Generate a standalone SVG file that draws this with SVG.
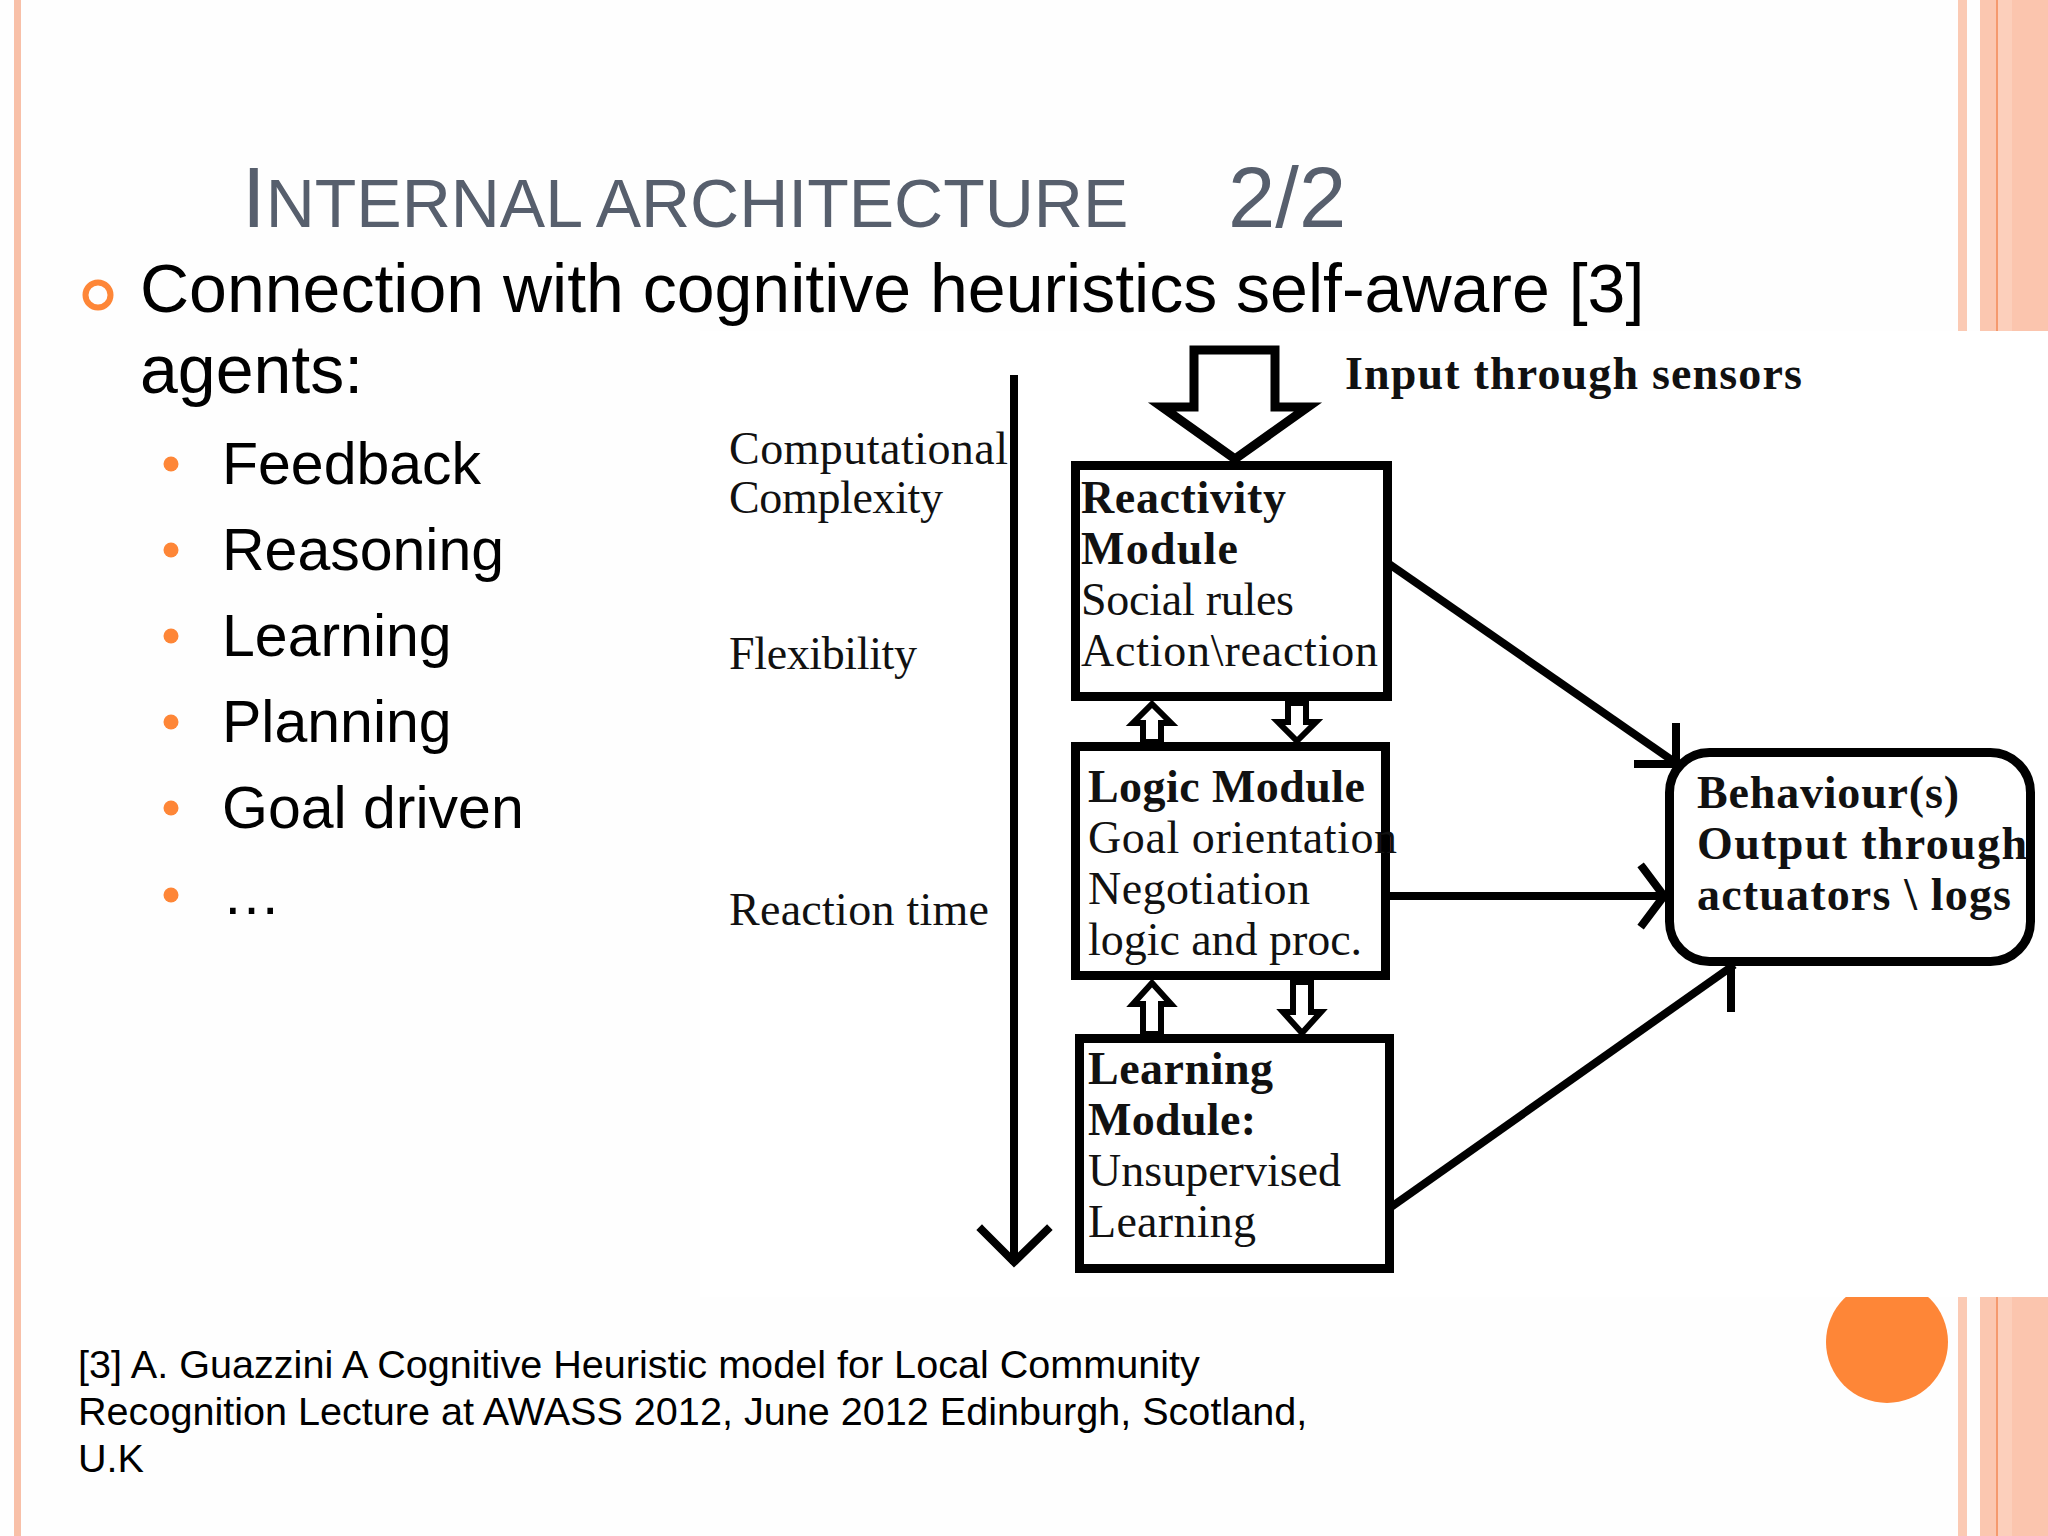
<svg xmlns="http://www.w3.org/2000/svg" width="2048" height="1536" viewBox="0 0 2048 1536">
<style>
.sans{font-family:"Liberation Sans",Arial,sans-serif}
.serif{font-family:"Liberation Serif","Times New Roman",serif;font-size:46px;fill:#111}
.b{font-weight:bold}
.box{fill:#fff;stroke:#000;stroke-width:9}
.con{fill:none;stroke:#000;stroke-width:8;stroke-linecap:square}
.hol{fill:#fff;stroke:#000;stroke-width:6;stroke-linejoin:miter}
.dot{fill:#FE8637}
</style>
<rect x="0" y="0" width="2048" height="1536" fill="#fefefe"/>
<g id="decor">
<rect x="14" y="0" width="7" height="1536" fill="#F8C0A8"/>
<rect x="1958" y="0" width="9" height="1536" fill="#FBCAB4"/>
<rect x="1980" y="0" width="16" height="1536" fill="#FBC7B0"/>
<rect x="1996" y="0" width="2" height="1536" fill="#F59A6E"/>
<rect x="1998" y="0" width="14" height="1536" fill="#FCCFBB"/>
<rect x="2012" y="0" width="36" height="1536" fill="#FBC5AE"/>
<circle cx="1887" cy="1342" r="61" fill="#FE8637"/>
</g>
<g id="title">
<text class="sans" x="242" y="227" fill="#575F6D"><tspan font-size="85">I</tspan><tspan font-size="68">NTERNAL ARCHITECTURE</tspan></text>
<text class="sans" x="1228" y="227" fill="#575F6D" font-size="85">2/2</text>
</g>
<g id="bullets">
<circle cx="98" cy="295" r="12.5" fill="none" stroke="#FE8637" stroke-width="6"/>
<text class="sans" x="140" y="312" font-size="68" fill="#000">Connection with cognitive heuristics self-aware [3]</text>
<text class="sans" x="140" y="393" font-size="68" fill="#000">agents:</text>
<circle class="dot" cx="171" cy="464" r="7.5"/>
<circle class="dot" cx="171" cy="550" r="7.5"/>
<circle class="dot" cx="171" cy="636" r="7.5"/>
<circle class="dot" cx="171" cy="722" r="7.5"/>
<circle class="dot" cx="171" cy="808" r="7.5"/>
<circle class="dot" cx="171" cy="895" r="7.5"/>
<g class="sans" font-size="59" fill="#000">
<text x="222" y="484">Feedback</text>
<text x="222" y="570">Reasoning</text>
<text x="222" y="656">Learning</text>
<text x="222" y="742">Planning</text>
<text x="222" y="828">Goal driven</text>
<text x="222" y="914">…</text>
</g>
</g>
<g id="footnote" class="sans" font-size="39.6" fill="#000">
<text x="78" y="1378">[3] A. Guazzini A Cognitive Heuristic model for Local Community</text>
<text x="78" y="1425">Recognition Lecture at AWASS 2012, June 2012 Edinburgh, Scotland,</text>
<text x="78" y="1472">U.K</text>
</g>
<rect id="figure-bg" x="700" y="331" width="1348" height="966" fill="#fff"/>
<g id="axis-labels" class="serif" fill="#222">
<text x="729" y="464" textLength="279">Computational</text>
<text x="729" y="513" textLength="214">Complexity</text>
<text x="729" y="669" textLength="188">Flexibility</text>
<text x="729" y="925" textLength="260">Reaction time</text>
</g>
<g id="connectors">
<line class="con" x1="1014" y1="379" x2="1014" y2="1260" stroke-width="6"/>
<polyline class="con" points="982,1230 1014,1262 1047,1230" stroke-width="6"/>
<line class="con" x1="1392" y1="566" x2="1676" y2="763"/>
<polyline class="con" points="1676,727 1676,764 1638,764"/>
<line class="con" x1="1390" y1="896" x2="1663" y2="896"/>
<polyline class="con" points="1643,868 1664,896 1643,924"/>
<line class="con" x1="1394" y1="1205" x2="1731" y2="967"/>
<line class="con" x1="1731" y1="967" x2="1731" y2="1008"/>
<polygon class="hol" points="1152,704 1171,723 1161,723 1161,742 1143,742 1143,723 1133,723"/>
<polygon class="hol" points="1297,741 1316,722 1306,722 1306,703 1288,703 1288,722 1278,722"/>
<polygon class="hol" points="1152,983 1171,1004 1161,1004 1161,1034 1143,1034 1143,1004 1133,1004"/>
<polygon class="hol" points="1302,1033 1321,1012 1311,1012 1311,982 1293,982 1293,1012 1283,1012"/>
</g>
<g id="input">
<polygon points="1194,350 1275,350 1275,407 1308,407 1235,459 1162,407 1194,407" fill="#fff" stroke="#000" stroke-width="9" stroke-linejoin="miter"/>
<text class="serif b" x="1345" y="389" textLength="457">Input through sensors</text>
</g>
<g id="reactivity">
<rect class="box" x="1075.5" y="465.5" width="312" height="231"/>
<text class="serif b" x="1081" y="513" textLength="205">Reactivity</text>
<text class="serif b" x="1081" y="564" textLength="157">Module</text>
<text class="serif" x="1081" y="615" textLength="213">Social rules</text>
<text class="serif" x="1081" y="666" textLength="297">Action\reaction</text>
</g>
<g id="logic">
<rect class="box" x="1075.5" y="746.5" width="310" height="229"/>
<text class="serif b" x="1088" y="802" textLength="277">Logic Module</text>
<text class="serif" x="1088" y="853" textLength="309">Goal orientation</text>
<text class="serif" x="1088" y="904" textLength="222">Negotiation</text>
<text class="serif" x="1088" y="955" textLength="274">logic and proc.</text>
</g>
<g id="learning">
<rect class="box" x="1079.5" y="1038.5" width="310" height="230"/>
<text class="serif b" x="1088" y="1084" textLength="185">Learning</text>
<text class="serif b" x="1088" y="1135" textLength="168">Module:</text>
<text class="serif" x="1088" y="1186" textLength="253">Unsupervised</text>
<text class="serif" x="1088" y="1237" textLength="168">Learning</text>
</g>
<g id="behaviour">
<rect class="box" x="1669.5" y="752.5" width="361" height="209" rx="40"/>
<text class="serif b" x="1697" y="808" textLength="262">Behaviour(s)</text>
<text class="serif b" x="1697" y="859" textLength="330">Output through</text>
<text class="serif b" x="1697" y="910" textLength="314">actuators \ logs</text>
</g>
</svg>
